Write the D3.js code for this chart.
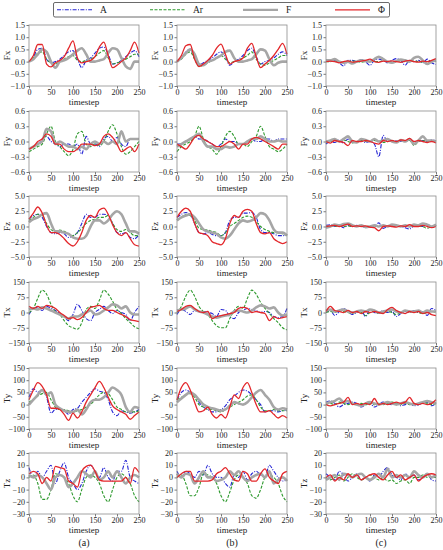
<!DOCTYPE html>
<html>
<head>
<meta charset="utf-8">
<script src="https://cdn.jsdelivr.net/npm/d3@7"></script>
<style>
  body { margin: 0; background: #fff; }
  svg { display: block; }
  text { font-family: "Times New Roman", "Liberation Serif", "DejaVu Serif", serif; fill: #222; }
</style>
</head>
<body>
<svg id="chart" width="443" height="550"></svg>
<script>
// timesteps sampled every 10 steps
var timesteps = [0,10,20,30,40,50,60,70,80,90,100,110,120,130,140,150,160,170,180,190,200,210,220,230,240,250];
var xTicks = [0,50,100,150,200,250];

var rowNames = ["Fx","Fy","Fz","Tx","Ty","Tz"];
var rowDomains = [[-1,1.5],[-0.6,0.6],[-5,5],[-150,150],[-100,150],[-30,20]];
var rowTicks = [
    [-1,-0.5,0,0.5,1,1.5],
    [-0.6,-0.3,0,0.3,0.6],
    [-5,-2.5,0,2.5,5],
    [-150,-75,0,75,150],
    [-100,-50,0,50,100,150],
    [-30,-20,-10,0,10,20]
];
var rowFormats = [".1f",".1f",".1f","d","d","d"];
var colLabels = ["(a)","(b)","(c)"];
var seriesNames = ["A","Ar","F","\u03a6"];

// each array holds [column a, column b, column c]
var Fx_A = [
    [0.0,0.2,0.5,0.55,0.1,-0.05,0.0,0.1,0.25,0.4,0.45,0.1,-0.25,0.05,0.15,0.35,0.55,0.6,0.3,-0.1,-0.05,0.05,0.2,0.35,0.45,0.2],
    [0.0,0.15,0.4,0.5,0.15,-0.15,-0.05,0.05,0.15,0.3,0.4,0.2,-0.15,0.0,0.1,0.25,0.45,0.55,0.2,-0.1,0.0,0.05,0.15,0.3,0.4,0.25],
    [0.0,0.08,0.05,-0.05,-0.18,0.05,0.05,0.0,0.08,0.0,-0.15,0.05,0.1,0.05,-0.05,0.05,0.12,0.05,-0.15,0.05,0.0,0.05,-0.05,0.1,-0.05,-0.12]
];
var Fx_Ar = [
    [0.0,0.15,0.35,0.4,0.1,-0.05,-0.1,0.0,0.1,0.2,0.25,0.05,0.0,0.05,0.1,0.2,0.35,0.45,0.15,-0.1,-0.05,0.0,0.1,0.2,0.3,0.3],
    [0.0,0.1,0.3,0.4,0.1,-0.2,-0.15,-0.05,0.05,0.15,0.25,0.1,-0.05,0.0,0.05,0.15,0.25,0.4,0.1,-0.1,-0.15,-0.05,0.05,0.15,0.25,0.25],
    [0.0,0.0,0.03,0.0,-0.03,0.0,0.02,0.0,-0.02,0.0,0.03,0.0,0.0,0.02,0.0,-0.02,0.0,0.03,0.0,0.0,0.02,0.0,-0.02,0.0,0.03,0.0]
];
var Fx_F = [
    [0.0,0.1,0.3,0.5,0.4,0.0,-0.25,0.0,0.05,0.15,0.3,0.45,0.55,0.3,0.0,0.0,0.05,0.1,0.35,0.55,0.5,0.15,-0.2,-0.3,0.0,0.0],
    [0.0,0.15,0.35,0.5,0.3,-0.1,-0.15,0.0,0.05,0.15,0.25,0.4,0.45,0.15,0.0,0.0,0.05,0.1,0.3,0.5,0.45,0.1,-0.15,-0.05,0.0,0.0],
    [0.05,0.05,0.1,0.0,-0.05,0.0,-0.08,0.0,0.05,0.02,0.0,0.1,0.2,0.1,0.0,-0.05,0.02,0.08,0.05,0.0,0.15,0.2,0.05,-0.1,0.0,0.05]
];
var Fx_Phi = [
    [0.0,0.25,0.7,0.7,-0.1,-0.22,-0.05,0.05,0.2,0.55,0.85,0.15,-0.05,0.0,0.05,0.2,0.6,0.8,0.25,-0.25,-0.15,0.0,0.15,0.45,0.8,0.35],
    [0.0,0.25,0.65,0.7,0.1,-0.2,-0.1,0.05,0.25,0.55,0.72,0.3,-0.1,0.0,0.05,0.15,0.55,0.75,0.2,-0.25,-0.1,0.05,0.25,0.5,0.75,0.3],
    [0.0,0.02,0.0,-0.05,0.0,0.03,-0.02,0.0,0.02,0.05,0.1,0.0,-0.03,0.02,0.0,0.03,0.0,-0.03,0.02,0.05,0.0,-0.02,0.02,0.0,0.05,0.12]
];

var Fy_A = [
    [-0.15,-0.1,-0.05,0.05,0.1,0.0,-0.05,-0.1,-0.05,-0.05,-0.1,-0.05,-0.25,0.1,-0.05,-0.05,-0.1,0.05,0.1,0.0,0.08,-0.05,-0.1,0.05,0.05,0.05],
    [-0.05,-0.05,0.0,0.05,0.1,0.05,0.05,0.0,-0.05,-0.1,-0.05,0.05,0.0,0.0,-0.05,-0.05,0.0,0.05,0.0,0.0,0.05,0.05,0.0,0.05,0.05,0.05],
    [-0.05,0.0,-0.02,0.03,-0.03,0.05,-0.02,0.0,0.02,-0.02,0.0,-0.05,-0.3,0.12,0.0,0.0,0.02,0.0,0.02,0.03,0.0,0.0,0.02,0.0,0.03,0.02]
];
var Fy_Ar = [
    [-0.2,-0.15,-0.1,-0.05,0.15,0.3,0.0,-0.1,-0.2,-0.28,-0.15,0.15,0.2,-0.05,-0.1,-0.05,-0.08,0.0,0.2,0.33,0.15,-0.1,-0.25,-0.2,-0.1,0.0],
    [-0.2,-0.1,-0.05,0.0,0.1,0.3,0.05,-0.1,-0.15,-0.25,-0.1,0.1,0.2,0.1,-0.05,-0.05,-0.1,0.0,0.1,0.3,0.1,-0.1,-0.15,-0.2,-0.15,-0.05],
    [-0.02,0.0,0.02,0.0,0.03,0.0,-0.03,0.0,0.02,0.0,0.0,0.02,0.0,-0.02,0.0,0.02,0.0,0.02,0.0,0.02,-0.08,0.0,0.02,0.0,0.02,0.0]
];
var Fy_F = [
    [-0.15,-0.1,-0.05,0.0,0.25,0.2,-0.05,0.0,-0.05,-0.1,-0.1,-0.15,-0.1,-0.15,-0.05,0.0,-0.05,0.0,-0.05,0.0,-0.05,0.2,0.0,0.05,0.05,0.05],
    [-0.1,-0.05,0.0,0.05,0.1,0.15,0.0,-0.1,-0.1,-0.15,-0.15,-0.1,-0.12,-0.1,-0.05,-0.05,0.0,0.05,0.05,0.1,0.05,0.0,0.0,0.02,0.0,0.0],
    [0.0,0.02,0.05,0.0,0.05,0.1,0.0,-0.02,0.05,0.03,0.0,0.05,0.0,0.02,0.05,0.0,-0.02,0.03,0.0,0.05,-0.05,0.02,0.1,0.02,0.02,0.0]
];
var Fy_Phi = [
    [-0.15,-0.1,0.0,0.05,0.15,0.1,-0.05,-0.05,-0.15,-0.2,-0.2,-0.15,-0.05,-0.05,-0.05,-0.08,-0.05,0.1,0.15,0.08,-0.05,-0.2,-0.15,-0.1,-0.2,-0.05],
    [-0.05,-0.1,-0.15,-0.05,0.08,0.12,0.05,0.0,-0.05,-0.1,-0.1,-0.05,0.0,-0.05,-0.15,-0.05,-0.05,0.05,0.08,0.05,0.0,-0.05,-0.1,-0.15,-0.05,-0.05],
    [0.0,-0.03,0.02,0.0,-0.02,-0.08,0.02,0.0,0.0,0.02,0.0,-0.03,-0.05,0.02,0.0,0.02,0.0,0.03,0.02,0.06,0.0,0.02,0.0,-0.02,0.0,-0.03]
];

var Fz_A = [
    [1.2,1.8,2.0,1.5,0.0,-1.0,-1.2,-1.0,-1.2,-1.8,-1.5,-1.0,0.5,2.0,1.5,1.5,2.0,2.0,1.8,0.5,-1.0,-1.2,-1.0,-1.8,-2.0,-1.3],
    [1.5,2.0,2.3,2.0,0.5,-1.0,-1.2,-1.0,-1.3,-1.5,-1.5,-1.0,1.0,1.5,1.5,2.2,2.2,2.3,1.5,-0.5,-1.0,-1.0,-1.2,-1.5,-1.5,-1.3],
    [0.2,0.3,0.0,0.2,-0.2,0.2,0.0,0.2,0.0,-0.1,0.0,0.1,0.6,-0.3,0.0,0.2,0.1,0.0,-0.2,-0.4,0.1,0.2,0.0,0.3,0.0,0.2]
];
var Fz_Ar = [
    [1.0,1.5,2.0,1.8,0.5,-0.5,-0.8,-0.6,-0.8,-1.2,-1.5,-1.0,-0.3,0.5,1.0,1.2,1.5,1.5,1.8,0.5,-0.5,-0.8,-0.5,-1.0,-1.5,-1.5],
    [1.2,1.5,2.0,1.8,1.0,-0.3,-0.5,-0.6,-0.8,-1.0,-1.5,-1.0,0.0,0.5,1.0,1.5,1.7,1.5,0.8,0.0,-0.5,-0.8,-1.0,-1.0,-1.2,-1.5],
    [0.0,0.1,0.0,0.2,0.0,0.1,0.0,0.1,0.2,0.0,0.1,0.0,0.1,0.0,0.2,0.0,0.1,0.0,0.0,0.2,0.0,0.1,0.0,-0.3,0.0,0.1]
];
var Fz_F = [
    [0.7,1.2,1.5,2.0,2.2,0.5,-0.8,-0.8,-1.0,-1.2,-1.8,-2.0,-2.0,-1.5,0.0,1.0,1.0,0.5,1.0,2.0,2.5,2.0,0.5,-0.8,-0.8,-1.2],
    [1.0,1.5,1.8,2.0,1.5,0.5,-0.5,-0.8,-1.0,-1.2,-1.8,-2.0,-1.5,-0.5,0.5,1.0,0.8,1.0,1.5,2.2,2.0,1.0,-0.5,-1.0,-1.0,-1.5],
    [-0.2,0.0,0.3,0.2,0.4,0.5,0.2,0.0,0.2,-0.1,0.0,0.2,0.0,0.2,0.0,0.3,0.2,0.0,0.2,0.0,0.3,0.2,0.5,0.3,0.0,0.3]
];
var Fz_Phi = [
    [1.2,2.2,3.2,2.2,0.2,-1.0,-1.0,-1.3,-2.0,-2.8,-3.2,-2.5,-1.0,1.0,1.8,1.5,2.7,3.0,2.0,0.3,-1.0,-1.5,-1.0,-2.0,-3.0,-3.2],
    [1.5,2.5,3.0,2.5,0.5,-1.0,-1.2,-1.5,-2.5,-2.8,-3.0,-2.0,0.5,1.8,1.5,2.5,2.8,2.5,0.5,-1.0,-1.2,-1.0,-2.0,-2.5,-2.8,-2.5],
    [0.0,0.1,0.2,0.0,0.2,0.4,0.0,0.1,0.0,0.1,-0.1,-0.2,-0.7,0.0,0.1,0.0,-0.1,0.1,0.0,0.3,0.0,0.0,0.2,0.0,-0.2,0.0]
];

var Tx_A = [
    [-10,20,25,10,30,20,10,-5,-20,-40,-10,40,10,-30,-40,0,15,30,10,-5,10,0,-10,-40,0,30],
    [-10,15,5,-10,10,5,5,0,-5,-20,15,10,-20,-30,0,10,20,15,10,0,5,0,-20,-25,-20,20],
    [0,10,-15,5,20,5,-10,0,10,-20,15,0,-5,10,0,5,-20,-5,5,0,10,0,5,-15,20,10]
];
var Tx_Ar = [
    [0,20,70,110,90,40,5,-10,-40,-65,-75,-82,-50,15,30,20,60,110,90,55,15,-5,-30,-50,-70,-80],
    [0,30,80,110,80,30,5,-10,-40,-65,-75,-75,-30,10,30,20,70,110,90,50,20,-5,-30,-50,-75,-85],
    [0,5,0,10,5,0,-5,5,0,-15,0,5,-5,0,5,0,-10,0,5,0,5,0,-5,0,5,0]
];
var Tx_F = [
    [15,20,15,25,20,10,0,-10,-20,-30,-20,-20,-10,0,10,-10,-5,10,25,40,35,20,30,0,-10,-10],
    [10,15,20,30,15,5,0,-10,-20,-25,-20,-15,-10,5,10,5,0,10,25,35,30,20,25,0,-15,-10],
    [10,15,5,10,15,5,0,5,10,5,15,10,0,5,10,15,5,0,10,5,5,10,0,10,5,5]
];
var Tx_Phi = [
    [30,20,30,20,35,30,20,0,-15,-30,-25,-35,-25,0,25,30,35,20,10,10,0,-10,-20,-35,-40,-45],
    [5,15,30,35,20,5,0,5,-30,-20,-15,-10,-5,0,20,25,20,0,5,0,-5,-40,-20,-30,-25,-20],
    [5,30,10,5,0,10,0,5,-5,5,0,5,0,-5,15,25,10,0,-5,5,0,5,-5,0,-10,-15]
];

var Ty_A = [
    [30,65,50,60,30,-35,-20,-20,-25,-40,-20,-15,10,30,50,65,55,50,20,-30,-45,-25,-30,-35,-30,-20],
    [20,50,60,50,40,10,-10,-20,-30,-30,-20,-5,20,35,50,60,55,40,20,0,-30,-25,-25,-30,-25,-20],
    [10,15,5,-10,0,5,10,5,-10,0,5,-10,0,10,5,0,5,-5,0,5,-5,0,5,10,-5,5]
];
var Ty_Ar = [
    [10,20,35,45,50,20,-10,-20,-20,-25,-30,-25,-20,-10,0,20,40,50,45,20,-10,-20,-30,-30,-30,-25],
    [20,30,40,45,30,0,-10,-20,-20,-25,-30,-20,-10,0,10,20,35,40,20,-10,-25,-25,-20,-25,-25,-25],
    [0,5,0,10,5,0,5,0,5,0,5,0,5,0,5,10,5,0,5,0,5,0,10,5,0,5]
];
var Ty_F = [
    [0,20,40,60,40,50,0,-15,-25,-30,-30,-20,-40,-20,10,20,20,30,50,70,60,40,-10,-30,-10,-15],
    [10,25,40,50,40,20,0,-10,-15,-20,-25,-20,-5,10,5,0,10,30,50,60,40,20,-10,-20,-15,-20],
    [5,10,15,25,10,15,5,0,-5,5,10,5,0,5,10,5,0,5,10,5,0,5,10,15,10,5]
];
var Ty_Phi = [
    [20,60,90,75,40,-15,-15,-20,-40,-65,-35,-55,-30,10,40,70,95,70,30,-5,-20,-30,-40,-60,-45,-30],
    [20,70,90,60,10,-30,-25,-10,-40,-55,-40,-55,-10,40,25,70,90,50,0,-30,-30,-25,-40,-55,-45,-55],
    [0,-5,0,5,10,30,0,5,0,5,0,25,0,5,0,5,10,5,10,30,5,0,5,0,5,20]
];

var Tz_A = [
    [8,0,5,0,5,10,-5,5,12,0,-5,-10,-5,5,10,5,0,8,0,-3,5,5,14,0,-3,-5],
    [5,0,5,3,0,5,2,10,3,0,0,-5,-8,2,0,5,-2,3,5,2,0,10,5,0,-3,-2],
    [3,0,-2,5,2,-3,0,3,-2,0,-3,2,0,5,8,2,0,-2,3,0,2,-2,0,3,-2,-3]
];
var Tz_Ar = [
    [0,2,-5,-18,-18,-10,3,2,0,-5,-15,-20,-10,0,2,0,-5,-15,-20,-10,0,3,0,-5,-15,-20],
    [0,2,-5,-15,-15,-8,3,2,0,-5,-15,-20,-12,-2,2,0,-5,-15,-17,-10,0,2,0,-5,-15,-20],
    [0,-2,0,2,-3,0,3,0,-2,0,2,0,-2,0,-3,-2,-5,-3,-2,-5,0,0,2,0,0,0]
];
var Tz_F = [
    [2,0,2,0,-5,-10,0,2,0,-8,-5,0,5,3,0,5,-2,0,5,0,5,0,-5,0,2,0],
    [3,0,3,2,-5,0,5,0,0,-3,-2,0,5,2,5,0,-3,0,2,3,0,5,-5,-2,0,-3],
    [-2,0,2,-2,3,2,0,2,3,0,-2,0,3,0,7,0,2,0,2,0,5,2,0,3,0,2]
];
var Tz_Phi = [
    [3,5,3,-5,0,-3,9,8,7,-3,-5,-8,5,9,10,5,-2,-3,-3,-3,-3,-3,0,-5,8,4],
    [0,3,5,5,-3,-3,-3,-3,-2,3,5,8,3,-2,-3,5,3,-3,-3,3,7,0,-3,-5,3,5],
    [0,2,-3,0,-2,3,0,2,-2,0,2,3,0,-2,2,5,0,2,-2,0,2,-3,0,2,3,2]
];

var rowData = [
    [Fx_A, Fx_Ar, Fx_F, Fx_Phi],
    [Fy_A, Fy_Ar, Fy_F, Fy_Phi],
    [Fz_A, Fz_Ar, Fz_F, Fz_Phi],
    [Tx_A, Tx_Ar, Tx_F, Tx_Phi],
    [Ty_A, Ty_Ar, Ty_F, Ty_Phi],
    [Tz_A, Tz_Ar, Tz_F, Tz_Phi]
];

// line looks, same order as seriesNames
var lineStyles = [
    { color: "#2424d4", width: 1.1, dash: "4,1.4,1,1.4" },
    { color: "#2f9a2f", width: 1.1, dash: "3,1.5" },
    { color: "#a6a6a6", width: 2.6, dash: null },
    { color: "#e3262a", width: 1.3, dash: null }
];

var serif = "'Times New Roman', 'Liberation Serif', 'DejaVu Serif', serif";

var colX = [29, 177, 326];
var rowY = [25, 111, 196, 282, 368, 453];
var panelW = 110, panelH = 61;

var svg = d3.select("#chart");

var xScale = d3.scaleLinear().domain([0, 250]).range([0, panelW]);

for (var r = 0; r < rowNames.length; r++) {
    for (var c = 0; c < 3; c++) {
        var g = svg.append("g")
            .attr("transform", "translate(" + colX[c] + "," + rowY[r] + ")");

        var yScale = d3.scaleLinear().domain(rowDomains[r]).range([panelH, 0]);

        var line = d3.line()
            .x(function (d, i) { return xScale(timesteps[i]); })
            .y(function (d) { return yScale(d); })
            .curve(d3.curveMonotoneX);

        rowData[r].forEach(function (series, s) {
            var st = lineStyles[s];
            g.append("path")
                .datum(series[c])
                .attr("d", line)
                .attr("fill", "none")
                .attr("stroke", st.color)
                .attr("stroke-width", st.width)
                .attr("stroke-dasharray", st.dash)
                .attr("stroke-linejoin", "round");
        });

        var xAxis = g.append("g")
            .attr("transform", "translate(0," + panelH + ")")
            .call(d3.axisBottom(xScale).tickValues(xTicks).tickSize(2.5).tickPadding(1));
        var yAxis = g.append("g")
            .call(d3.axisLeft(yScale).tickValues(rowTicks[r])
                .tickFormat(d3.format(rowFormats[r])).tickSize(2.5).tickPadding(1.5));

        [xAxis, yAxis].forEach(function (ax) {
            ax.attr("font-family", serif).attr("font-size", 8);
            ax.select(".domain").remove();
            ax.selectAll(".tick line").attr("stroke", "#777");
            ax.selectAll(".tick text")
                .attr("fill", "#222")
                .style("font-family", serif)
                .style("font-size", "8px");
        });

        g.append("rect")
            .attr("width", panelW)
            .attr("height", panelH)
            .attr("fill", "none")
            .attr("stroke", "#8c8c8c")
            .attr("stroke-width", 0.8);

        g.append("text")
            .attr("x", panelW / 2)
            .attr("y", panelH + 18.5)
            .attr("text-anchor", "middle")
            .style("font-family", serif)
            .style("font-size", "9px")
            .text("timestep");

        g.append("text")
            .attr("transform", "translate(-19," + (panelH / 2) + ") rotate(-90)")
            .attr("text-anchor", "middle")
            .style("font-family", serif)
            .style("font-size", "9px")
            .text(rowNames[r]);
    }
}

// column captions
colLabels.forEach(function (lab, c) {
    svg.append("text")
        .attr("x", colX[c] + panelW / 2)
        .attr("y", 546)
        .attr("text-anchor", "middle")
        .style("font-family", serif)
        .style("font-size", "10px")
        .text(lab);
});

// legend
var legend = svg.append("g").attr("class", "legend");
legend.append("rect")
    .attr("x", 53.5).attr("y", 2.5)
    .attr("width", 336).attr("height", 14.5)
    .attr("rx", 1.5)
    .attr("fill", "#fff")
    .attr("stroke", "#444")
    .attr("stroke-width", 0.8);

var legX = [57, 150, 243, 335];
seriesNames.forEach(function (name, s) {
    var st = lineStyles[s];
    legend.append("line")
        .attr("x1", legX[s]).attr("x2", legX[s] + 35)
        .attr("y1", 9.8).attr("y2", 9.8)
        .attr("stroke", st.color)
        .attr("stroke-width", s === 2 ? 2.2 : st.width)
        .attr("stroke-dasharray", st.dash);
    legend.append("text")
        .attr("x", legX[s] + 43)
        .attr("y", 13)
        .style("font-family", serif)
        .style("font-size", "9.5px")
        .text(name);
});
</script>
</body>
</html>
